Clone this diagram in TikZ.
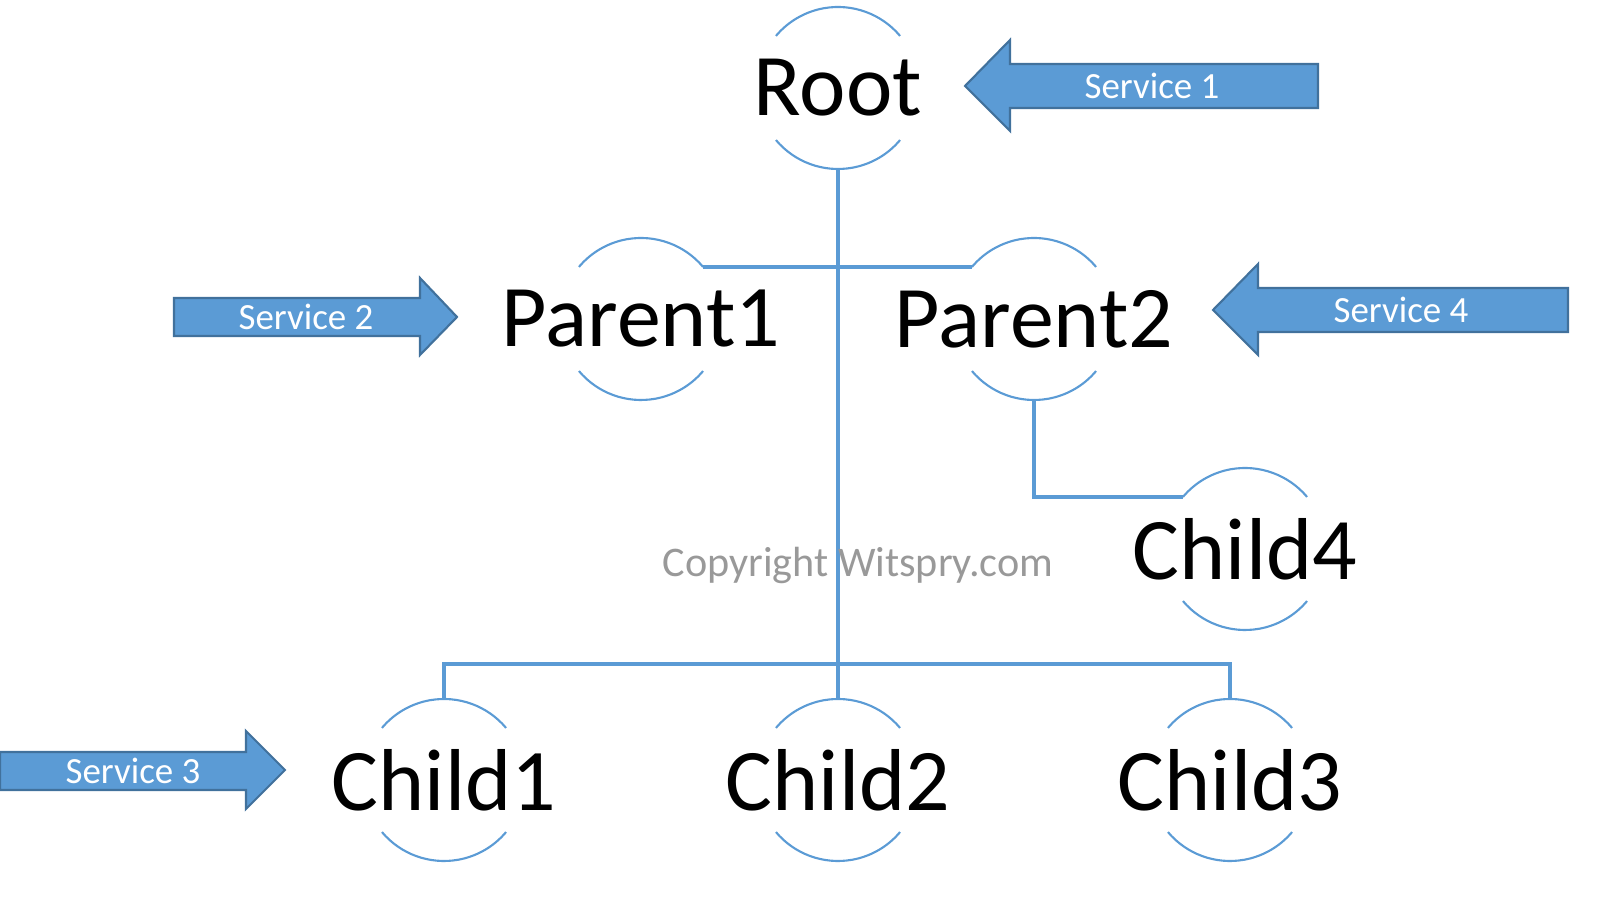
\documentclass[tikz,border=0pt]{standalone}
\usepackage{fontspec}
\setmainfont{Carlito}
\usepackage{tikz}
\usetikzlibrary{positioning}
\definecolor{lineblue}{HTML}{5B9BD5}
\definecolor{arrowfill}{HTML}{5B9BD5}
\definecolor{arrowedge}{HTML}{41719C}
\tikzset{
  member/.style={inner sep=0pt, font=\fontsize{25}{28}\selectfont},
  ring/.style={draw=lineblue, line width=0.6pt},
  link/.style={draw=lineblue, line width=0.9pt},
  service/.style={fill=arrowfill, draw=arrowedge, line width=0.6pt},
  servicetext/.style={text=white, font=\fontsize{10.5}{12}\selectfont},
}
\begin{document}
\begin{tikzpicture}[x=0.01cm, y=0.01cm]
\useasboundingbox (0,0) rectangle (1600,897);
% members
\node[member](root) at (838,809){Root};
\node[member](p1) at (641,578){Parent1};
\node[member](p2) at (1034,578){Parent2};
\node[member](c4) at (1245,348){Child4};
\node[member](c1) at (444,117){Child1};
\node[member](c2) at (838,117){Child2};
\node[member](c3) at (1230,117){Child3};
\foreach \n in {root,p1,p2,c4,c1,c2,c3}{
  \path (\n.center) +(0,81) coordinate (\n-n) +(0,-81) coordinate (\n-s)
    +(40:81) coordinate (\n-ne) +(140:81) coordinate (\n-nw);
  \draw[ring] (\n-ne) arc (40:140:81);
  \draw[ring] (\n.center) ++(220:81) arc (220:320:81);
}
% connectors
\coordinate (bar) at (838,233);
\draw[link] (root-s) -- (c2-n);
\draw[link] (p1-ne) -- (p2-nw);
\draw[link] (p2-s) |- (c4-nw);
\draw[link] (c1-n) |- (bar) -| (c3-n);
% services
\draw[service] (965,811) -- (1010,857) -- (1010,833) -- (1318,833) -- (1318,789) -- (1010,789) -- (1010,766) -- cycle;
\node[servicetext](s1) at (1152,811){Service 1};
\draw[service] (457,580) -- (420,619) -- (420,599) -- (174,599) -- (174,561) -- (420,561) -- (420,542) -- cycle;
\node[servicetext](s2) at (306,580){Service 2};
\draw[service] (1213,587) -- (1258,633) -- (1258,609) -- (1568,609) -- (1568,565) -- (1258,565) -- (1258,542) -- cycle;
\node[servicetext](s4) at (1401,587){Service 4};
\draw[service] (285,127) -- (246,166) -- (246,145) -- (0,145) -- (0,107) -- (246,107) -- (246,88) -- cycle;
\node[servicetext](s3) at (133,126){Service 3};
% watermark
\node[text=black!40, font=\fontsize{12}{14}\selectfont](copy) at (858,332){Copyright Witspry.com};
\end{tikzpicture}
\end{document}
